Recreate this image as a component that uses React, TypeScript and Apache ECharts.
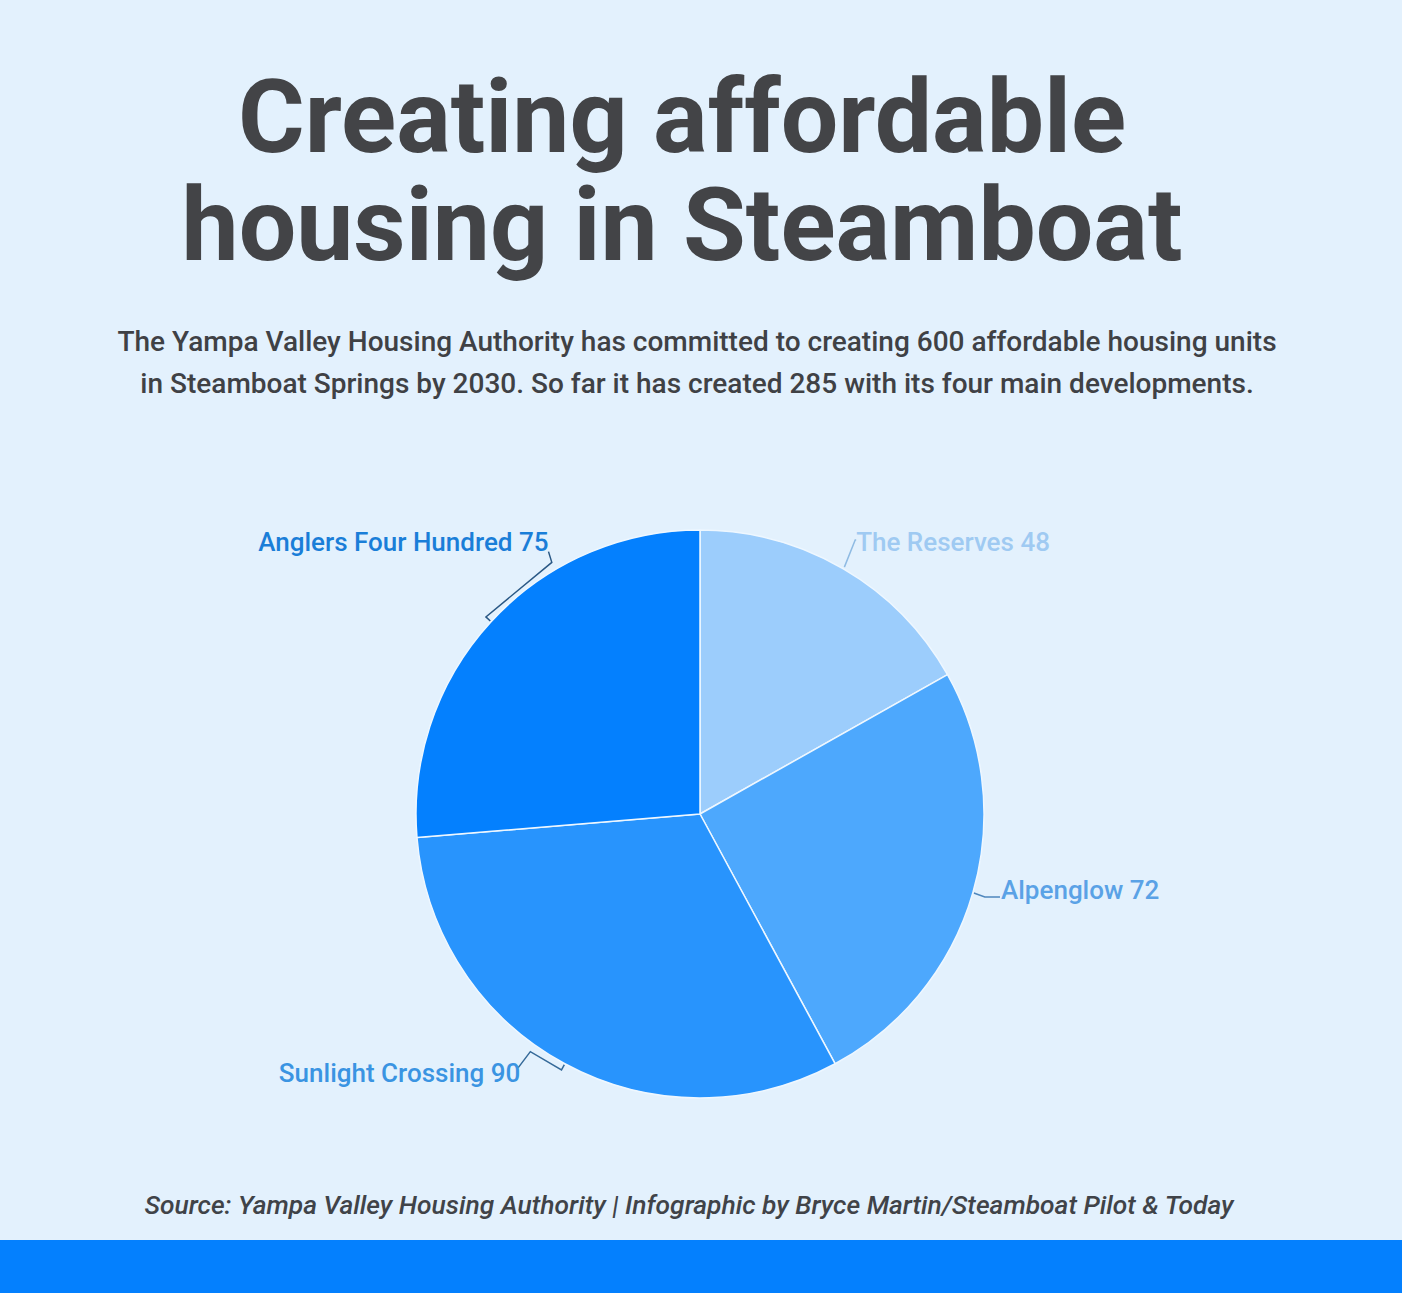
import React, { useEffect, useRef } from "react";
import * as echarts from "echarts";

const categories = ["The Reserves", "Alpenglow", "Sunlight Crossing", "Anglers Four Hundred"];
const values = [48, 72, 90, 75];
const sliceColors = ["#9ccdfc", "#4da8fd", "#2894fd", "#0480fe"];
const labelColors = ["#9fcaf2", "#5aa2e6", "#3a94e2", "#1a7ed8"];
const lineColors = ["#8fbbe3", "#4f87bd", "#356a99", "#2a5885"];

const titleLines = ["Creating affordable", "housing in Steamboat"];
const subtitleLines = [
  "The Yampa Valley Housing Authority has committed to creating 600 affordable housing units",
  "in Steamboat Springs by 2030. So far it has created 285 with its four main developments.",
];
const sourceText = "Source: Yampa Valley Housing Authority | Infographic by Bryce Martin/Steamboat Pilot & Today";

const W = 1402;
const H = 1293;
const CX = 700;
const CY = 814;
const R = 284;

export default function App() {
  const ref = useRef<HTMLDivElement>(null);
  useEffect(() => {
    if (!ref.current) return;
    const chart = echarts.init(ref.current, null, { renderer: "svg", width: W, height: H });
    const total = values.reduce((a, b) => a + b, 0);
    const starts: number[] = [];
    let acc = 0;
    values.forEach((v) => {
      starts.push(acc);
      acc += v;
    });
    const pt = (deg: number, rad: number) => {
      const a = (deg * Math.PI) / 180;
      return [CX + rad * Math.sin(a), CY - rad * Math.cos(a)];
    };
    const mid = (i: number) => ((starts[i] + values[i] / 2) / total) * 360;
    const endA = (i: number) => ((starts[i] + values[i]) / total) * 360;

    const font = "Roboto, 'Noto Sans', sans-serif";
    chart.setOption({
      animation: false,
      backgroundColor: "#e3f1fd",
      graphic: [
        { type: "rect", shape: { x: 0, y: 1240, width: W, height: 53 }, style: { fill: "#0480fe" } },
        {
          type: "text",
          x: 682,
          y: 171,
          style: {
            text: titleLines.join("\n"),
            fill: "#434447",
            font: `bold 102px ${font}`,
            lineHeight: 108,
            textAlign: "center",
            textVerticalAlign: "middle",
          },
        },
        {
          type: "text",
          x: 697,
          y: 362,
          style: {
            text: subtitleLines.join("\n"),
            fill: "#3f4145",
            font: `500 28px ${font}`,
            lineHeight: 42,
            textAlign: "center",
            textVerticalAlign: "middle",
          },
        },
        {
          type: "text",
          x: 689,
          y: 1205,
          style: { text: sourceText, fill: "#404348", font: `italic 500 26.4px ${font}`, textAlign: "center", textVerticalAlign: "middle" },
        },
      ],
      series: [
        {
          type: "pie",
          center: [CX, CY],
          radius: [0, R],
          startAngle: 90,
          clockwise: true,
          avoidLabelOverlap: false,
          itemStyle: { borderColor: "#eef7ff", borderWidth: 1.5 },
          label: {
            show: true,
            position: "outside",
            formatter: "{b} {c}",
            fontFamily: font,
            fontSize: 26,
            fontWeight: 500,
          },
          labelLine: { show: true, length: 20, length2: 10, lineStyle: { width: 1.5 } },
          labelLayout: (p: any) => {
            const i = p.dataIndex;
            const m = mid(i);
            if (i === 0) {
              const a = pt(m, R + 2);
              const b = pt(m - 0.8, R + 31);
              return { x: b[0] + 1, y: 542, align: "left", verticalAlign: "middle", labelLinePoints: [a, b, [b[0] + 1, b[1]]] };
            }
            if (i === 1) {
              const a = pt(m, R + 1);
              return { x: 1001, y: 890, align: "left", verticalAlign: "middle", labelLinePoints: [a, [a[0] + 11, a[1] + 4], [1000, 897]] };
            }
            if (i === 2) {
              const a = pt(m, R + 1);
              const b = pt(m, R + 7);
              const c = pt(m + 7.1, R + 8);
              const d = pt(m + 7.2, R + 28);
              return { x: d[0] + 2, y: 1073, align: "right", verticalAlign: "middle", labelLinePoints: [a, b, c, d] };
            }
            const e = endA(i);
            const a = pt(m, R + 1);
            const b = pt(m, R + 7);
            const c = pt(e - 30.5, R + 8);
            const d = pt(e - 30, R + 19);
            return { x: d[0], y: 542, align: "right", verticalAlign: "middle", labelLinePoints: [a, b, c, d] };
          },
          data: categories.map((name, i) => ({
            name,
            value: values[i],
            itemStyle: { color: sliceColors[i] },
            label: { color: labelColors[i] },
            labelLine: { lineStyle: { color: lineColors[i] } },
          })),
        },
      ],
    });
    return () => chart.dispose();
  }, []);
  return <div ref={ref} style={{ position: "absolute", left: 0, top: 0, width: W, height: H }} />;
}
